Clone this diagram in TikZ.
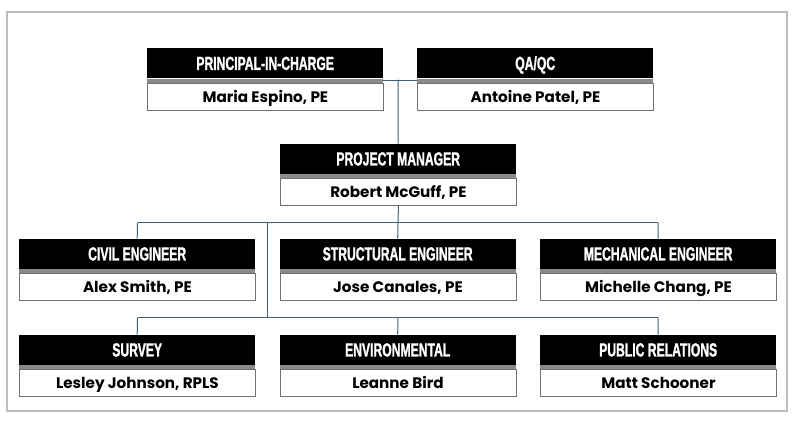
\documentclass[tikz,border=0pt]{standalone}
\usepackage{fontspec}
\newfontfamily\headfont[FakeStretch=0.64,FakeBold=1.2]{Liberation Sans Bold}
\newfontfamily\namefont{Poppins Bold}
\definecolor{linkblue}{HTML}{3E5F7C}
\definecolor{stripgray}{HTML}{8A8A8A}
\definecolor{boxgray}{HTML}{707070}
\definecolor{framegray}{HTML}{BDBDBD}
\tikzset{
  hdr/.style={fill=black, text=white, minimum width=236pt, minimum height=30pt,
    inner sep=0pt, anchor=north west, text height=13.5pt, text depth=0pt,
    font=\headfont\fontsize{19}{19}\selectfont},
  stripbar/.style={fill=stripgray, minimum width=236pt, minimum height=4pt,
    inner sep=0pt, anchor=north west},
  namebox/.style={draw=boxgray, line width=0.9pt, fill=white, minimum width=236pt,
    minimum height=27pt, inner sep=0pt, anchor=north west, text height=10.8pt,
    text depth=0pt, font=\namefont\fontsize{15.2}{15.5}\selectfont},
  link/.style={draw=linkblue, line width=1pt},
}
\newcommand\orgbox[5]{%
  \node[hdr] (#1) at (#2,#3) {#4};
  \node[stripbar] (#1s) at (#1.south west) {};
  \node[namebox] (#1n) at (#1s.south west) {#5};
}
\begin{document}
\begin{tikzpicture}[x=1pt,y=-1pt]
\useasboundingbox (0,0) rectangle (800,424);
\draw[framegray, line width=1.5pt] (7,12) rectangle (787,411);
% connectors
\coordinate (topjoin) at (398,79.5);
\coordinate (bus1) at (398,222.5);
\coordinate (bus1l) at (137.5,222.5);
\coordinate (bus1r) at (658,222.5);
\coordinate (bus1m) at (267.5,222.5);
\coordinate (bus2m) at (267.5,317.5);
\coordinate (bus2l) at (137.5,317.5);
\coordinate (bus2r) at (658,317.5);
\coordinate (bus2c) at (398,317.5);
%
\orgbox{pic}{147}{48}{PRINCIPAL-IN-CHARGE}{Maria Espino, PE}
\orgbox{qa}{417}{48}{QA/QC}{Antoine Patel, PE}
\orgbox{pm}{280}{143.5}{PROJECT MANAGER}{Robert McGuff, PE}
\orgbox{civ}{19}{238.5}{CIVIL ENGINEER}{Alex Smith, PE}
\orgbox{str}{279.5}{238.5}{STRUCTURAL ENGINEER}{Jose Canales, PE}
\orgbox{mec}{540}{238.5}{MECHANICAL ENGINEER}{Michelle Chang, PE}
\orgbox{sur}{19}{334.5}{SURVEY}{Lesley Johnson, RPLS}
\orgbox{env}{279.5}{334.5}{ENVIRONMENTAL}{Leanne Bird}
\orgbox{pr}{540}{334.5}{PUBLIC RELATIONS}{Matt Schooner}
%
\draw[link] (pics.east) -- (qas.west);
\draw[link] (topjoin) -- (pm.north);
\draw[link] (pmn.south) -- (bus1) -- (str.north);
\draw[link] (bus1l) -- (bus1r);
\draw[link] (bus1l) -- (civ.north);
\draw[link] (bus1r) -- (mec.north);
\draw[link] (bus1m) -- (bus2m);
\draw[link] (bus2l) -- (bus2r);
\draw[link] (bus2l) -- (sur.north);
\draw[link] (bus2c) -- (env.north);
\draw[link] (bus2r) -- (pr.north);
\end{tikzpicture}
\end{document}
